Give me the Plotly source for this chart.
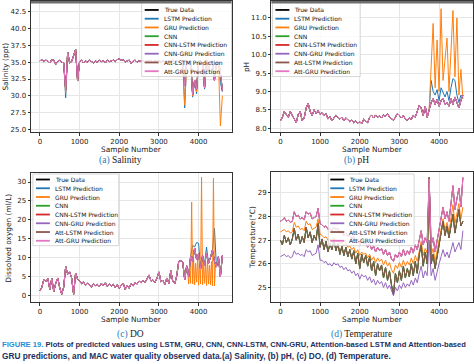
import plotly.graph_objects as go

W, H = 474, 364

SAMPLES = list(range(0, 4601, 50))
SERIES = ["True Data", "LSTM Prediction", "GRU Prediction", "CNN",
          "CNN-LSTM Prediction", "CNN-GRU Prediction", "Att-LSTM Prediction",
          "Att-GRU Prediction"]
COLORS = ["#000000", "#1f77b4", "#ff7f0e", "#2ca02c", "#d62728",
          "#9467bd", "#8c564b", "#e377c2"]

# ---------------- Salinity ----------------
SAL_TRUE = [35.2, 35.4, 35.1, 35.3, 35.2, 34.9, 35.4, 35.3, 34.7, 35.1,
            35.3, 35.0, 34.9, 30.9, 36.5, 34.9, 35.1, 35.9, 36.9, 32.2,
            35.1, 35.3, 34.9, 35.2, 35.0, 35.3, 35.1, 34.9, 35.2, 35.0,
            35.3, 35.1, 35.2, 34.9, 35.3, 35.1, 35.2, 35.3, 35.1, 35.4,
            35.5, 35.3, 35.4, 35.0, 35.2, 35.3, 34.8, 35.2, 35.3, 35.0,
            35.2, 35.1, 35.3, 35.0, 35.2, 35.1, 35.3, 35.0, 35.2, 35.1,
            35.3, 35.0, 35.2, 35.1, 34.9, 35.2, 35.1, 35.3, 35.0, 35.2,
            35.1, 34.9, 35.2, 31.5, 35.1, 35.0, 35.2, 30.2, 32.3, 31.0,
            35.1, 35.2, 34.9, 31.2, 35.0, 33.8, 35.1, 34.9, 32.3, 35.0,
            35.1, 33.5, 30.8]
SAL_LSTM_DIPS = {650: 29.7, 3650: 28.2, 3850: 29.8, 3950: 30.3, 4150: 31.0,
                 4550: 32.0, 4600: 30.6}
SAL_GRU_DIPS = {650: 30.4, 3650: 28.6, 3850: 30.0, 3950: 30.6, 4550: 25.5,
                4600: 30.0}

# ---------------- pH ----------------
PH_TRUE = [8.20, 8.30, 8.45, 8.38, 8.30, 8.45, 8.35, 8.25, 8.15, 8.38,
           8.45, 8.20, 8.28, 8.55, 8.68, 8.45, 8.35, 8.50, 8.40, 8.48,
           8.38, 8.42, 8.35, 8.40, 8.25, 8.32, 8.20, 8.28, 8.35, 8.30,
           8.25, 8.30, 8.20, 8.28, 8.24, 8.18, 8.22, 8.15, 8.20, 8.14,
           8.18, 8.12, 8.25, 8.20, 8.15, 8.30, 8.35, 8.28, 8.36, 8.30,
           8.34, 8.28, 8.36, 8.32, 8.40, 8.30, 8.25, 8.22, 8.30, 8.40,
           8.35, 8.28, 8.35, 8.25, 8.22, 8.28, 8.24, 8.35, 8.30, 8.45,
           8.62, 8.55, 8.35, 8.60, 8.30, 8.50, 8.70, 8.80, 8.65, 8.78,
           8.60, 8.75, 8.82, 8.65, 8.70, 8.60, 8.80, 8.65, 8.85, 8.70,
           8.55, 8.75, 8.90]
PH_TAIL_SAMPLES = list(range(3750, 4601, 50))
PH_LSTM_TAIL = [8.50, 9.30, 9.00, 8.90, 9.05, 8.75, 9.10, 8.95, 8.85, 9.00,
                8.75, 9.10, 9.35, 9.30, 8.90, 8.70, 8.90, 8.85]
PH_GRU_TAIL = [8.50, 9.80, 10.85, 9.10, 10.40, 9.00, 11.25, 9.30, 10.00, 10.45,
               9.00, 10.10, 11.20, 9.40, 11.00, 8.90, 9.60, 8.80]

# ---------------- DO ----------------
DO_TRUE = [1.2, 2.2, 4.3, 3.6, 4.4, 1.6, 4.5, 1.0, 3.2, 4.6,
           2.0, 0.3, 2.2, 7.6, 5.6, 6.2, 4.6, 0.3, 5.9, 4.3,
           3.8, 3.1, 3.6, 2.6, 3.2, 2.6, 2.2, 3.1, 2.6, 2.9,
           2.3, 3.2, 2.6, 3.3, 2.4, 3.0, 2.5, 2.9, 2.1, 2.8,
           1.9, 2.6, 3.2, 1.6, 2.7, 1.9, 3.1, 2.6, 3.4, 3.0,
           3.8, 3.3, 4.0, 3.4, 4.4, 5.4, 3.8, 4.1, 3.4, 4.5,
           6.2, 3.6, 4.0, 2.9, 4.6, 3.2, 6.5, 3.7, 3.1, 5.2,
           9.0, 9.2, 8.8, 4.2, 7.8, 5.0, 10.4, 9.0, 12.5, 9.5,
           11.0, 7.0, 10.5, 8.0, 11.2, 8.5, 10.0, 12.0, 9.0, 7.5,
           10.2, 5.0, 10.5]
DO_LSTM_PEAKS = {3850: 13.2, 3900: 12.8, 3950: 14.0, 4000: 13.8, 4200: 12.8,
                 4400: 17.7}
DO_GRU_TAIL_SAMPLES = list(range(3725, 4601, 25))
DO_GRU_TAIL = [6.5, 3.0, 8.0, 3.2, 24.7, 3.0, 9.5, 2.8, 8.5, 3.5, 10.0, 2.7,
               9.0, 3.0, 31.3, 2.8, 9.0, 3.2, 8.5, 2.6, 9.5, 3.0, 8.0, 2.8,
               9.0, 2.5, 31.0, 2.5, 8.0, 7.5, 8.5, 10.2, 8.0, 5.0, 8.0, 10.5]

# ---------------- Temperature ----------------
TEMP_TRUE = [27.00, 26.80, 27.20, 26.90, 27.10, 26.80, 27.05, 27.50, 27.00, 27.25,
             26.85, 27.15, 26.90, 27.55, 27.10, 27.35, 26.90, 27.20, 27.00, 27.70,
             26.70, 27.05, 26.60, 26.95, 26.50, 26.85, 26.60, 27.00, 26.55, 26.85,
             26.40, 26.75, 26.35, 26.70, 26.30, 26.60, 26.20, 26.55, 26.00, 26.45,
             25.80, 26.40, 26.05, 26.35, 25.90, 26.30, 25.70, 26.10, 25.50, 26.00,
             25.70, 25.95, 25.40, 25.85, 25.30, 25.70, 25.10, 24.70, 25.60, 25.20,
             25.70, 25.30, 25.90, 25.40, 25.80, 25.45, 26.00, 25.50, 26.10, 25.60,
             26.40, 26.80, 25.90, 26.50, 26.00, 29.65, 26.00, 26.40, 25.80, 26.30,
             26.80, 27.30, 27.80, 27.20, 27.60, 27.10, 27.70, 28.10, 27.30, 27.90,
             28.30, 27.60, 27.80]
TEMP_LSTM = [27.80, 27.85, 27.95, 27.80, 27.85, 27.75, 27.80, 28.20, 28.00, 28.05,
             27.90, 27.95, 27.85, 28.20, 28.10, 28.15, 27.90, 27.95, 28.00, 28.35,
             27.70, 27.65, 27.55, 27.60, 27.45, 27.50, 27.40, 27.55, 27.45, 27.50,
             27.30, 27.35, 27.20, 27.30, 27.15, 27.20, 27.05, 27.15, 26.90, 27.05,
             26.80, 26.95, 26.85, 26.90, 26.70, 26.85, 26.60, 26.75, 26.50, 26.70,
             26.55, 26.65, 26.40, 26.60, 26.35, 26.50, 26.20, 26.10, 26.40, 26.25,
             26.50, 26.30, 26.60, 26.35, 26.55, 26.40, 26.70, 26.45, 26.80, 26.60,
             27.00, 27.40, 26.80, 27.10, 26.90, 29.60, 26.80, 27.10, 26.50, 27.00,
             27.40, 27.90, 28.40, 27.90, 28.20, 27.80, 28.50, 29.30, 28.30, 28.80,
             29.20, 28.40, 29.65]
TEMP_GRU = [27.35, 27.40, 27.45, 27.35, 27.40, 27.30, 27.35, 27.75, 27.55, 27.60,
            27.45, 27.50, 27.40, 27.80, 27.65, 27.70, 27.45, 27.50, 27.55, 27.90,
            27.25, 27.20, 27.10, 27.15, 27.00, 27.05, 26.95, 27.10, 26.95, 27.00,
            26.85, 26.90, 26.75, 26.85, 26.70, 26.75, 26.60, 26.70, 26.45, 26.60,
            26.35, 26.50, 26.40, 26.45, 26.25, 26.40, 26.15, 26.30, 26.05, 26.25,
            26.10, 26.20, 25.95, 26.15, 25.90, 26.05, 25.75, 25.60, 25.95, 25.80,
            26.05, 25.85, 26.15, 25.90, 26.10, 25.95, 26.25, 26.00, 26.35, 26.10,
            26.55, 26.95, 26.35, 26.65, 26.45, 29.00, 26.35, 26.65, 26.10, 26.55,
            26.95, 27.45, 27.90, 27.45, 27.75, 27.35, 27.95, 28.50, 27.70, 28.15,
            28.55, 27.90, 28.40]
TEMP_CNN_GRU = [26.30, 26.35, 26.40, 26.30, 26.35, 26.25, 26.30, 26.55, 26.40, 26.45,
                26.35, 26.40, 26.30, 26.60, 26.50, 26.55, 26.35, 26.40, 26.45, 26.80,
                26.15, 26.15, 26.05, 26.10, 25.95, 26.00, 25.90, 26.05, 25.95, 26.00,
                25.85, 25.90, 25.75, 25.85, 25.70, 25.75, 25.60, 25.70, 25.50, 25.60,
                25.35, 25.55, 25.45, 25.50, 25.30, 25.45, 25.20, 25.35, 25.10, 25.30,
                25.15, 25.25, 25.00, 25.20, 24.95, 25.10, 24.85, 24.65, 25.00, 24.85,
                25.10, 24.95, 25.20, 25.00, 25.15, 25.05, 25.30, 25.10, 25.40, 25.20,
                25.60, 25.90, 25.40, 25.70, 25.50, 27.00, 25.50, 25.80, 25.30, 25.70,
                26.00, 26.30, 26.60, 26.30, 26.50, 26.25, 26.60, 26.90, 26.50, 26.70,
                26.90, 26.60, 27.40]

# ---------------- assemble series per panel ----------------
def override(base, changes):
    return [changes.get(s, v) for s, v in zip(SAMPLES, base)]

n_head = SAMPLES.index(3700) + 1
sal = [(SAMPLES, SAL_TRUE), (SAMPLES, override(SAL_TRUE, SAL_LSTM_DIPS)),
       (SAMPLES, override(SAL_TRUE, SAL_GRU_DIPS)), (SAMPLES, SAL_TRUE),
       (SAMPLES, SAL_TRUE), (SAMPLES, SAL_TRUE), (SAMPLES, SAL_TRUE),
       (SAMPLES, SAL_TRUE)]
ph_x_tail = SAMPLES[:n_head] + PH_TAIL_SAMPLES
ph = [(SAMPLES, PH_TRUE), (ph_x_tail, PH_TRUE[:n_head] + PH_LSTM_TAIL),
      (ph_x_tail, PH_TRUE[:n_head] + PH_GRU_TAIL), (SAMPLES, PH_TRUE),
      (SAMPLES, PH_TRUE), (SAMPLES, PH_TRUE), (SAMPLES, PH_TRUE),
      (SAMPLES, PH_TRUE)]
do_x_gru = SAMPLES[:n_head] + DO_GRU_TAIL_SAMPLES
do = [(SAMPLES, DO_TRUE), (SAMPLES, override(DO_TRUE, DO_LSTM_PEAKS)),
      (do_x_gru, DO_TRUE[:n_head] + DO_GRU_TAIL), (SAMPLES, DO_TRUE),
      (SAMPLES, DO_TRUE), (SAMPLES, DO_TRUE), (SAMPLES, DO_TRUE),
      (SAMPLES, DO_TRUE)]
temp = [(SAMPLES, TEMP_TRUE), (SAMPLES, TEMP_LSTM), (SAMPLES, TEMP_GRU),
        (SAMPLES, TEMP_TRUE), (SAMPLES, TEMP_LSTM), (SAMPLES, TEMP_CNN_GRU),
        (SAMPLES, TEMP_TRUE), (SAMPLES, TEMP_LSTM)]


def X(px):
    return px / W


def Y(py):
    return 1 - py / H


# panel geometry in pixels: left, right, top, bottom
PANELS = [
    dict(data=sal, ax="", box=(31, 232, 0, 132), yr=(24.56, 44.13), dt=2.5, tf=".1f",
         ytitle="Salinity (ppt)", ytx=6, leg=(142, 232, 1, 76), legx=145, legy=9.0),
    dict(data=ph, ax="2", box=(272, 474, 0, 132), yr=(7.89, 11.46), dt=0.5, tf=".1f",
         ytitle="pH", ytx=247, leg=(273, 361, 1, 76), legx=276, legy=9.0),
    dict(data=do, ax="3", box=(31, 232, 173, 303), yr=(-1.84, 32.37), dt=5, tf="d",
         ytitle="Dissolved oxygen (ml/L)", ytx=9, leg=(33, 119, 174, 246), legx=36, legy=179.5),
    dict(data=temp, ax="4", box=(272, 474, 172, 303), yr=(24.37, 29.88), dt=1, tf="d",
         ytitle="Temperature(°C)", ytx=253, leg=(329, 415, 174, 246), legx=331, legy=179.5),
]
XR = {"": (-226, 4830), "2": (-226, 4855), "3": (-226, 4830), "4": (-226, 4855)}

fig = go.Figure()
shapes = []
annotations = []
TICKFONT = dict(family="DejaVu Sans", size=7, color="#222")
TITLEFONT = dict(family="DejaVu Sans", size=7.4, color="#222")
ROW = 8.8

for p in PANELS:
    ax = p["ax"]
    l, r, t, b = p["box"]
    for (xs, ys), name, col in zip(p["data"], SERIES, COLORS):
        fig.add_trace(go.Scatter(x=xs, y=ys, mode="lines", name=name,
                                 line=dict(color=col, width=1),
                                 xaxis="x" + ax, yaxis="y" + ax,
                                 showlegend=False, hoverinfo="skip"))
    common = dict(showline=True, mirror=True, linecolor="#333", linewidth=0.8,
                  ticks="outside", ticklen=2.5, tickwidth=0.8, tickcolor="#333",
                  showgrid=True, gridcolor="#e6e6e6", gridwidth=0.6,
                  zeroline=False, tickfont=TICKFONT)
    fig.layout["xaxis" + ax] = dict(domain=[X(l), X(r)], range=list(XR[ax]),
                                    anchor="y" + ax, tick0=0, dtick=1000, **common)
    fig.layout["yaxis" + ax] = dict(domain=[Y(b), Y(t)], range=list(p["yr"]),
                                    anchor="x" + ax, dtick=p["dt"], tickformat=p["tf"],
                                    **common)
    # axis titles
    annotations.append(dict(text="Sample Number", x=X((l + r) / 2 + 0.5),
                            y=Y(b + 17.5), xref="paper", yref="paper",
                            showarrow=False, xanchor="center", yanchor="middle",
                            font=TITLEFONT))
    annotations.append(dict(text=p["ytitle"], x=X(p["ytx"]), y=Y((t + b) / 2),
                            xref="paper", yref="paper", textangle=-90,
                            showarrow=False, xanchor="center", yanchor="middle",
                            font=TITLEFONT))
    # legend box
    lx0, lx1, ly0, ly1 = p["leg"]
    shapes.append(dict(type="rect", xref="paper", yref="paper", layer="above",
                       x0=X(lx0), x1=X(lx1), y0=Y(ly1), y1=Y(ly0),
                       fillcolor="rgba(255,255,255,0.8)",
                       line=dict(color="#cccccc", width=0.8)))
    for i, (name, col) in enumerate(zip(SERIES, COLORS)):
        yy = p["legy"] + i * ROW
        shapes.append(dict(type="line", xref="paper", yref="paper", layer="above",
                           x0=X(p["legx"]), x1=X(p["legx"] + 14), y0=Y(yy), y1=Y(yy),
                           line=dict(color=col, width=1.8)))
        annotations.append(dict(text=name, x=X(p["legx"] + 17), y=Y(yy),
                                xref="paper", yref="paper", showarrow=False,
                                xanchor="left", yanchor="middle",
                                font=dict(family="DejaVu Sans", size=6, color="#111")))
    if t == 0:
        shapes.append(dict(type="rect", xref="paper", yref="paper", layer="above",
                           x0=X(l), x1=X(r), y0=Y(2.5), y1=Y(0),
                           fillcolor="#6e6e6e", line=dict(width=0)))

# sub-captions
BLUE = "#2a7ab9"
SUBCAPS = [("(a)", "Salinity", 121, 160.5), ("(b)", "pH", 357, 160.5),
           ("(c)", "DO", 131, 335), ("(d)", "Temperature", 362, 335)]
for lab, name, cx, cy in SUBCAPS:
    annotations.append(dict(text=f"<span style='color:{BLUE}'>{lab}</span> {name}",
                            x=X(cx), y=Y(cy), xref="paper", yref="paper",
                            showarrow=False, xanchor="center", yanchor="middle",
                            font=dict(family="Liberation Serif", size=9.5, color="#1a1a1a")))

# figure caption
CAP_BLUE = "#1f8fd8"
CAP_DARK = "#1c2f5e"
line1 = (f"<span style='color:{CAP_BLUE}'>FIGURE 19.</span> Plots of predicted values using LSTM, GRU, "
         "CNN, CNN-LSTM, CNN-GRU, Attention-based LSTM and Attention-based")
line2 = ("GRU predictions, and MAC water quality observed data.(a) Salinity, (b) pH, "
         "(c) DO, (d) Temperature.")
for txt, cy, fs in [(line1, 345.5, 7.6), (line2, 357, 8.3)]:
    annotations.append(dict(text=f"<b>{txt}</b>", x=0, y=Y(cy), xref="paper", yref="paper",
                            showarrow=False, xanchor="left", yanchor="middle",
                            font=dict(family="Liberation Sans", size=fs, color=CAP_DARK)))

fig.update_layout(width=W, height=H, margin=dict(l=0, r=0, t=0, b=0),
                  paper_bgcolor="white", plot_bgcolor="white",
                  shapes=shapes, annotations=annotations, showlegend=False)

fig.write_html("out.html", config={"displayModeBar": False},
               post_script="document.body.style.margin='0';document.body.style.overflow='hidden';")
